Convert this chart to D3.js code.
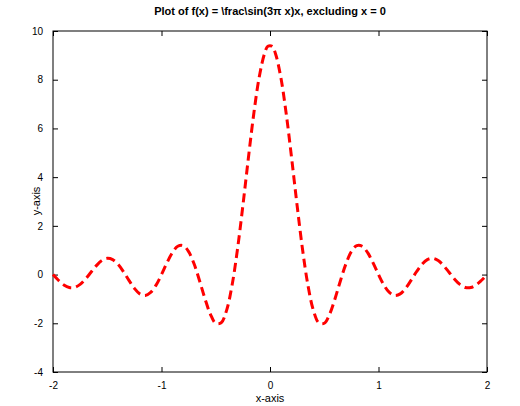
<!DOCTYPE html><html><head><script src="https://cdn.jsdelivr.net/npm/d3@7"></script>
<style>body{margin:0;background:#fff}</style></head><body><svg id="c" width="520" height="406"></svg>
<script>
const xs=[-2,-1.95,-1.9,-1.85,-1.8,-1.75,-1.7,-1.65,-1.6,-1.55,-1.5,-1.45,-1.4,-1.35,-1.3,-1.25,-1.2,-1.15,-1.1,-1.05,-1,-0.95,-0.9,-0.85,-0.8,-0.75,-0.7,-0.65,-0.6,-0.55,-0.5,-0.45,-0.4,-0.35,-0.3,-0.25,-0.2,-0.15,-0.1,-0.05,-0.02,0.02,0.05,0.1,0.15,0.2,0.25,0.3,0.35,0.4,0.45,0.5,0.55,0.6,0.65,0.7,0.75,0.8,0.85,0.9,0.95,1,1.05,1.1,1.15,1.2,1.25,1.3,1.35,1.4,1.45,1.5,1.55,1.6,1.65,1.7,1.75,1.8,1.85,1.9,1.95,2];
const ys=[0,-0.233,-0.426,-0.534,-0.528,-0.404,-0.182,0.095,0.367,0.575,0.667,0.614,0.42,0.116,-0.238,-0.566,-0.793,-0.859,-0.735,-0.432,0,0.478,0.899,1.162,1.189,0.943,0.441,-0.241,-0.98,-1.62,-2,-1.98,-1.469,-0.447,1.03,2.828,4.755,6.585,8.09,9.08,9.37,9.37,9.08,8.09,6.585,4.755,2.828,1.03,-0.447,-1.469,-1.98,-2,-1.62,-0.98,-0.241,0.441,0.943,1.189,1.162,0.899,0.478,0,-0.432,-0.735,-0.859,-0.793,-0.566,-0.238,0.116,0.42,0.614,0.667,0.575,0.367,0.095,-0.182,-0.404,-0.528,-0.534,-0.426,-0.233,0];
const xTicks=[-2,-1,0,1,2];
const yTicks=[-4,-2,0,2,4,6,8,10];
const svg=d3.select("#c");
const L=53,R=487,T=31,B=372;
const x=d3.scaleLinear().domain([-2,2]).range([L,R]);
const y=d3.scaleLinear().domain([-4,10]).range([B,T]);
const f="Liberation Sans, Arial, sans-serif";
const fmt=d=>String(d);
function ax(g,a){g.call(a);g.select(".domain").remove();g.selectAll("text").attr("font-family",f).attr("font-size",10).attr("fill","#000");g.selectAll("line").attr("stroke","#000");}
svg.append("g").attr("transform",`translate(0,${B})`).call(g=>ax(g,d3.axisBottom(x).tickValues(xTicks).tickSize(-5).tickPadding(10).tickFormat(fmt)));
svg.append("g").attr("transform",`translate(0,${T})`).call(g=>{ax(g,d3.axisTop(x).tickValues(xTicks).tickSize(-5).tickFormat(""));});
svg.append("g").attr("transform",`translate(${L},0)`).call(g=>ax(g,d3.axisLeft(y).tickValues(yTicks).tickSize(-5).tickPadding(10).tickFormat(fmt)));
svg.append("g").attr("transform",`translate(${R},0)`).call(g=>ax(g,d3.axisRight(y).tickValues(yTicks).tickSize(-5).tickFormat("")));
svg.append("rect").attr("x",L).attr("y",T).attr("width",R-L).attr("height",B-T).attr("fill","none").attr("stroke","#000");
svg.append("path").datum(xs.map((v,i)=>[v,ys[i]])).attr("fill","none").attr("stroke","#ff0000").attr("stroke-width",3).attr("stroke-dasharray","9,5")
 .attr("d",d3.line().x(d=>x(d[0])).y(d=>y(d[1])).curve(d3.curveCatmullRom));
svg.append("text").attr("x",270).attr("y",15).attr("text-anchor","middle").attr("font-family",f).attr("font-size",11).attr("font-weight","bold").text("Plot of f(x) = \\frac\\sin(3π x)x, excluding x = 0");
svg.append("text").attr("x",270).attr("y",402).attr("text-anchor","middle").attr("font-family",f).attr("font-size",11).text("x-axis");
svg.append("text").attr("transform","translate(40,201) rotate(-90)").attr("text-anchor","middle").attr("font-family",f).attr("font-size",11).text("y-axis");
</script></body></html>
